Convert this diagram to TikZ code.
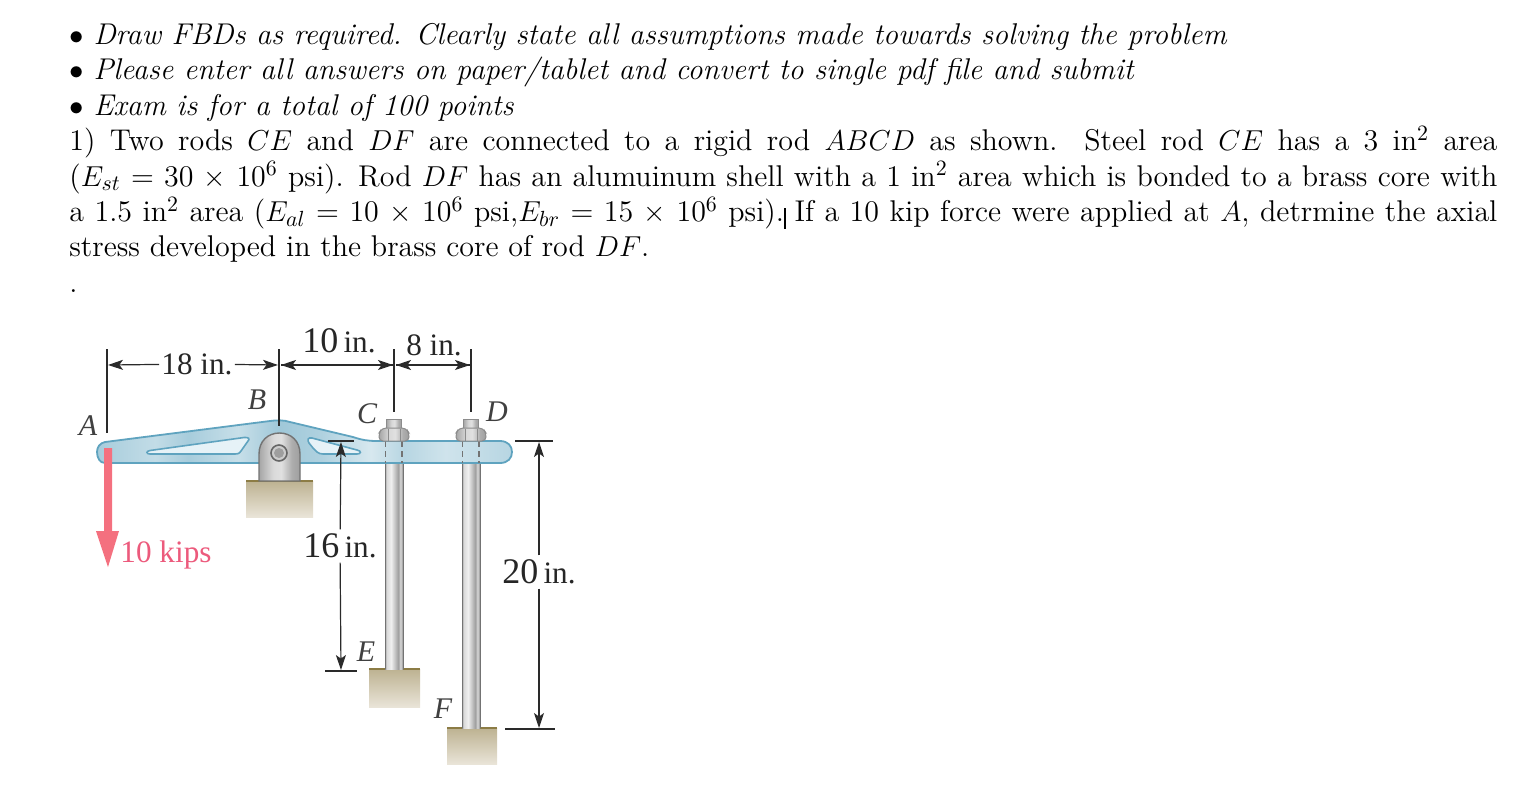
\documentclass[tikz,border=0pt]{standalone}
\usepackage{fontspec}
\setmainfont{lmroman12}[Extension=.otf,UprightFont=*-regular,ItalicFont=*-italic,BoldFont=*-bold]
\usetikzlibrary{arrows.meta}
\newfontfamily\figfont{Liberation Serif}
\definecolor{leveredge}{HTML}{5FA3BF}
\definecolor{leverhole}{HTML}{E6F2F7}
\definecolor{forcepink}{HTML}{F4707F}
\definecolor{kipspink}{HTML}{EC5A7C}
\definecolor{dimgray}{HTML}{2A2A2A}
\definecolor{basetop}{HTML}{BDB291}
\definecolor{basebot}{HTML}{E9E4D8}
\definecolor{baseedge}{HTML}{8C7C45}
\pgfdeclarehorizontalshading{levershade}{100bp}{
  color(0bp)=(white!45!leveredge); color(25bp)=(white!45!leveredge); color(32bp)=(white!62!leveredge);
  color(36bp)=(white!45!leveredge); color(42bp)=(white!65!leveredge);
  color(47bp)=(white!40!leveredge); color(52bp)=(white!50!leveredge);
  color(58bp)=(white!75!leveredge); color(62bp)=(white!55!leveredge);
  color(67bp)=(white!70!leveredge); color(75bp)=(white!55!leveredge); color(100bp)=(white!55!leveredge)}
\pgfdeclarehorizontalshading{rodshade}{100bp}{
  color(0bp)=(black!45); color(25bp)=(black!45); color(29bp)=(black!15);
  color(42bp)=(black!6); color(52bp)=(black!22); color(62bp)=(black!38);
  color(68bp)=(black!15); color(75bp)=(black!45); color(100bp)=(black!45)}
\pgfdeclarehorizontalshading{clevisshade}{100bp}{
  color(0bp)=(black!35); color(25bp)=(black!35); color(42bp)=(black!15);
  color(52bp)=(black!12); color(65bp)=(black!32); color(75bp)=(black!38); color(100bp)=(black!38)}
\tikzset{
  dimline/.style={draw=dimgray,line width=0.6pt},
  dimarrow/.style={dimline,-{Stealth[length=7.5pt,width=5pt,inset=1.8pt]}},
  figlabel/.style={font=\figfont\fontsize{15.6}{18}\selectfont,inner sep=1pt,text=black!85},
  bigdim/.style={figlabel,inner sep=2pt},
  pointlabel/.style={font=\figfont\itshape\fontsize{15}{18}\selectfont,inner sep=0pt,text=black!75},
  txtblock/.style={anchor=north west,inner sep=0pt,text width=714pt,align=justify,
    font=\fontsize{15}{17.7}\selectfont},
}
\newcommand{\bigin}[1]{{\fontsize{18}{18}\selectfont #1}\,in.}
\begin{document}
\begin{tikzpicture}[x=0.5pt,y=-0.5pt]
  \useasboundingbox (0,0) rectangle (1540,788);
  % problem text
  \node[txtblock] (prob) at (69,23) {%
    $\bullet$ \textit{Draw FBDs as required. Clearly state all assumptions made towards solving the problem}\newline
    $\bullet$ \textit{Please enter all answers on paper/tablet and convert to single pdf file and submit}\newline
    $\bullet$ \textit{Exam is for a total of 100 points}\newline
    1) Two rods $CE$ and $DF$ are connected to a rigid rod $ABCD$ as shown. Steel rod $CE$ has a 3 in$^2$ area\linebreak
    ($E_{st}$ = 30 $\times$ 10$^6$ psi). Rod $DF$ has an alumuinum shell with a 1 in$^2$ area which is bonded to a brass core with\linebreak
    a 1.5 in$^2$ area ($E_{al}$ = 10 $\times$ 10$^6$ psi,$E_{br}$ = 15 $\times$ 10$^6$ psi).\rlap{\rule[-3.5pt]{1pt}{10.5pt}} If a 10 kip force were applied at $A$, detrmine the axial\linebreak
    stress developed in the brass core of rod $DF$.\newline
    .};
  % bases
  \foreach \bx/\by/\bw/\bh in {246/481/67/36,369/669/51/38,447/728/50/36}{
    \fill[top color=basetop,bottom color=basebot] (\bx,\by) rectangle ++(\bw,\bh);
    \draw[baseedge,line width=0.7pt] (\bx,\by) -- ++(\bw,0);
  }
  % rods
  \foreach \rx/\ry in {394/669,471/728}{
    \shade[shading=rodshade] (\rx-9,463) rectangle (\rx+9,\ry);
    \draw[black!55,line width=0.5pt] (\rx-9,463) -- (\rx-9,\ry) (\rx+9,463) -- (\rx+9,\ry);
  }
  % lever
  \draw[leveredge,line width=0.9pt,shading=levershade]
    (105,442) -- (270,421) .. controls (277,420) and (284,420) .. (290,422)
    -- (353,437) .. controls (362,440) and (368,441) .. (377,441) -- (500,441)
    .. controls (508,441) and (512,446) .. (512,452) .. controls (512,458) and (508,463) .. (500,463)
    -- (105,463) .. controls (100,463) and (97,458) .. (97,452) .. controls (97,447) and (100,443) .. (105,442) -- cycle;
  \draw[leveredge,line width=0.8pt,fill=leverhole]
    (190,454) -- (150,454) .. controls (146,454) and (146,451) .. (150,450.5) -- (244,437.5)
    .. controls (249,437) and (250,439) .. (248,441) -- (241,451) .. controls (239,454) and (237,454) .. (235,454) -- cycle;
  \draw[leveredge,line width=0.8pt,fill=leverhole]
    (340,454) -- (323,454) .. controls (318,454) and (316,451) .. (313,448) -- (309,443)
    .. controls (307,440) and (308,437) .. (312,438) -- (357,450) .. controls (362,451) and (361,454) .. (357,454) -- cycle;
  \foreach \rx in {394,471}{
    \draw[black!55,line width=0.7pt,densely dashed] (\rx-8.5,441) -- (\rx-8.5,463) (\rx+8,441) -- (\rx+8,463);
  }
  % nuts
  \foreach \rx in {394,471}{
    \shade[shading=clevisshade,draw=black!45,line width=0.5pt] (\rx-7.5,419) rectangle (\rx+7.5,429);
    \shade[shading=clevisshade,draw=black!45,line width=0.5pt,rounded corners=2pt]
      (\rx-12,428) -- (\rx+12,428) -- (\rx+15,433) -- (\rx+15,441) -- (\rx-15,441) -- (\rx-15,433) -- cycle;
    \draw[black!45,line width=0.4pt] (\rx-6,428.5) -- (\rx-6,441) (\rx+6,428.5) -- (\rx+6,441);
  }
  % pin support
  \shade[shading=clevisshade,draw=black!55,line width=0.7pt]
    (259,481) -- (259,454) .. controls (259,441) and (268,433) .. (279.5,433)
    .. controls (291,433) and (300,441) .. (300,454) -- (300,481) -- cycle;
  \draw[black!60,line width=0.8pt,fill=black!20] (279,453) circle[radius=8];
  \fill[black!38] (279,453) circle[radius=5];
  % force
  \fill[forcepink] (104,448) -- (112,448) -- (112,531) -- (119,531) -- (108,567) -- (96,531) -- (104,531) -- cycle;
  \node[font=\figfont\fontsize{15.6}{18}\selectfont,text=kipspink,inner sep=0pt] (kips) at (166,555) {10 kips};
  % extension lines
  \coordinate (Atop) at (107,349); \coordinate (Abot) at (107,433);
  \coordinate (Btop) at (279,349); \coordinate (Bbot) at (279,426);
  \coordinate (Ctop) at (394,349); \coordinate (Cbot) at (394,412);
  \coordinate (Dtop) at (471,349); \coordinate (Dbot) at (471,412);
  \draw[dimline] (Atop) -- (Abot);
  \draw[dimline] (Btop) -- (Bbot);
  \draw[dimline] (Ctop) -- (Cbot);
  \draw[dimline] (Dtop) -- (Dbot);
  % horizontal dimensions
  \coordinate (Al) at (108,365); \coordinate (Bl) at (278,365);
  \coordinate (Br) at (281,365); \coordinate (Cl) at (393,365);
  \coordinate (Cr) at (396,365); \coordinate (Dl) at (470,365);
  \node[figlabel] (dimAB) at (197,364) {18 in.};
  \draw[dimarrow] (dimAB) -- (Al);
  \draw[dimarrow] (dimAB) -- (Bl);
  \node[bigdim] (dimBC) at (339,341) {\bigin{10}};
  \draw[dimarrow] (Cl) -- (Br);
  \draw[dimarrow] (Br) -- (Cl);
  \node[figlabel] (dimCD) at (434,345) {8 in.};
  \draw[dimarrow] (Dl) -- (Cr);
  \draw[dimarrow] (Cr) -- (Dl);
  % vertical dimensions
  \coordinate (Ctick1) at (328,441); \coordinate (Ctick2) at (354,441);
  \coordinate (Etick1) at (325,671); \coordinate (Etick2) at (357,671);
  \coordinate (Dtick1) at (515,441); \coordinate (Dtick2) at (553,441);
  \coordinate (Ftick1) at (505,729); \coordinate (Ftick2) at (555,729);
  \coordinate (Ctip) at (341,442); \coordinate (Etip) at (341,670);
  \coordinate (Dtip) at (539,442); \coordinate (Ftip) at (539,728);
  \draw[dimline] (Ctick1) -- (Ctick2);
  \draw[dimline] (Etick1) -- (Etick2);
  \draw[dimline] (Dtick1) -- (Dtick2);
  \draw[dimline] (Ftick1) -- (Ftick2);
  \node[bigdim] (dimCE) at (340,546) {\bigin{16}};
  \draw[dimarrow] (dimCE) -- (Ctip);
  \draw[dimarrow] (dimCE) -- (Etip);
  \node[bigdim] (dimDF) at (539,572) {\bigin{20}};
  \draw[dimarrow] (dimDF) -- (Dtip);
  \draw[dimarrow] (dimDF) -- (Ftip);
  % point labels
  \node[pointlabel] (labA) at (88,426) {A};
  \node[pointlabel] (labB) at (257,400) {B};
  \node[pointlabel] (labC) at (367,414) {C};
  \node[pointlabel] (labD) at (497,412) {D};
  \node[pointlabel] (labE) at (366,652) {E};
  \node[pointlabel] (labF) at (443,709) {F};
\end{tikzpicture}
\end{document}
